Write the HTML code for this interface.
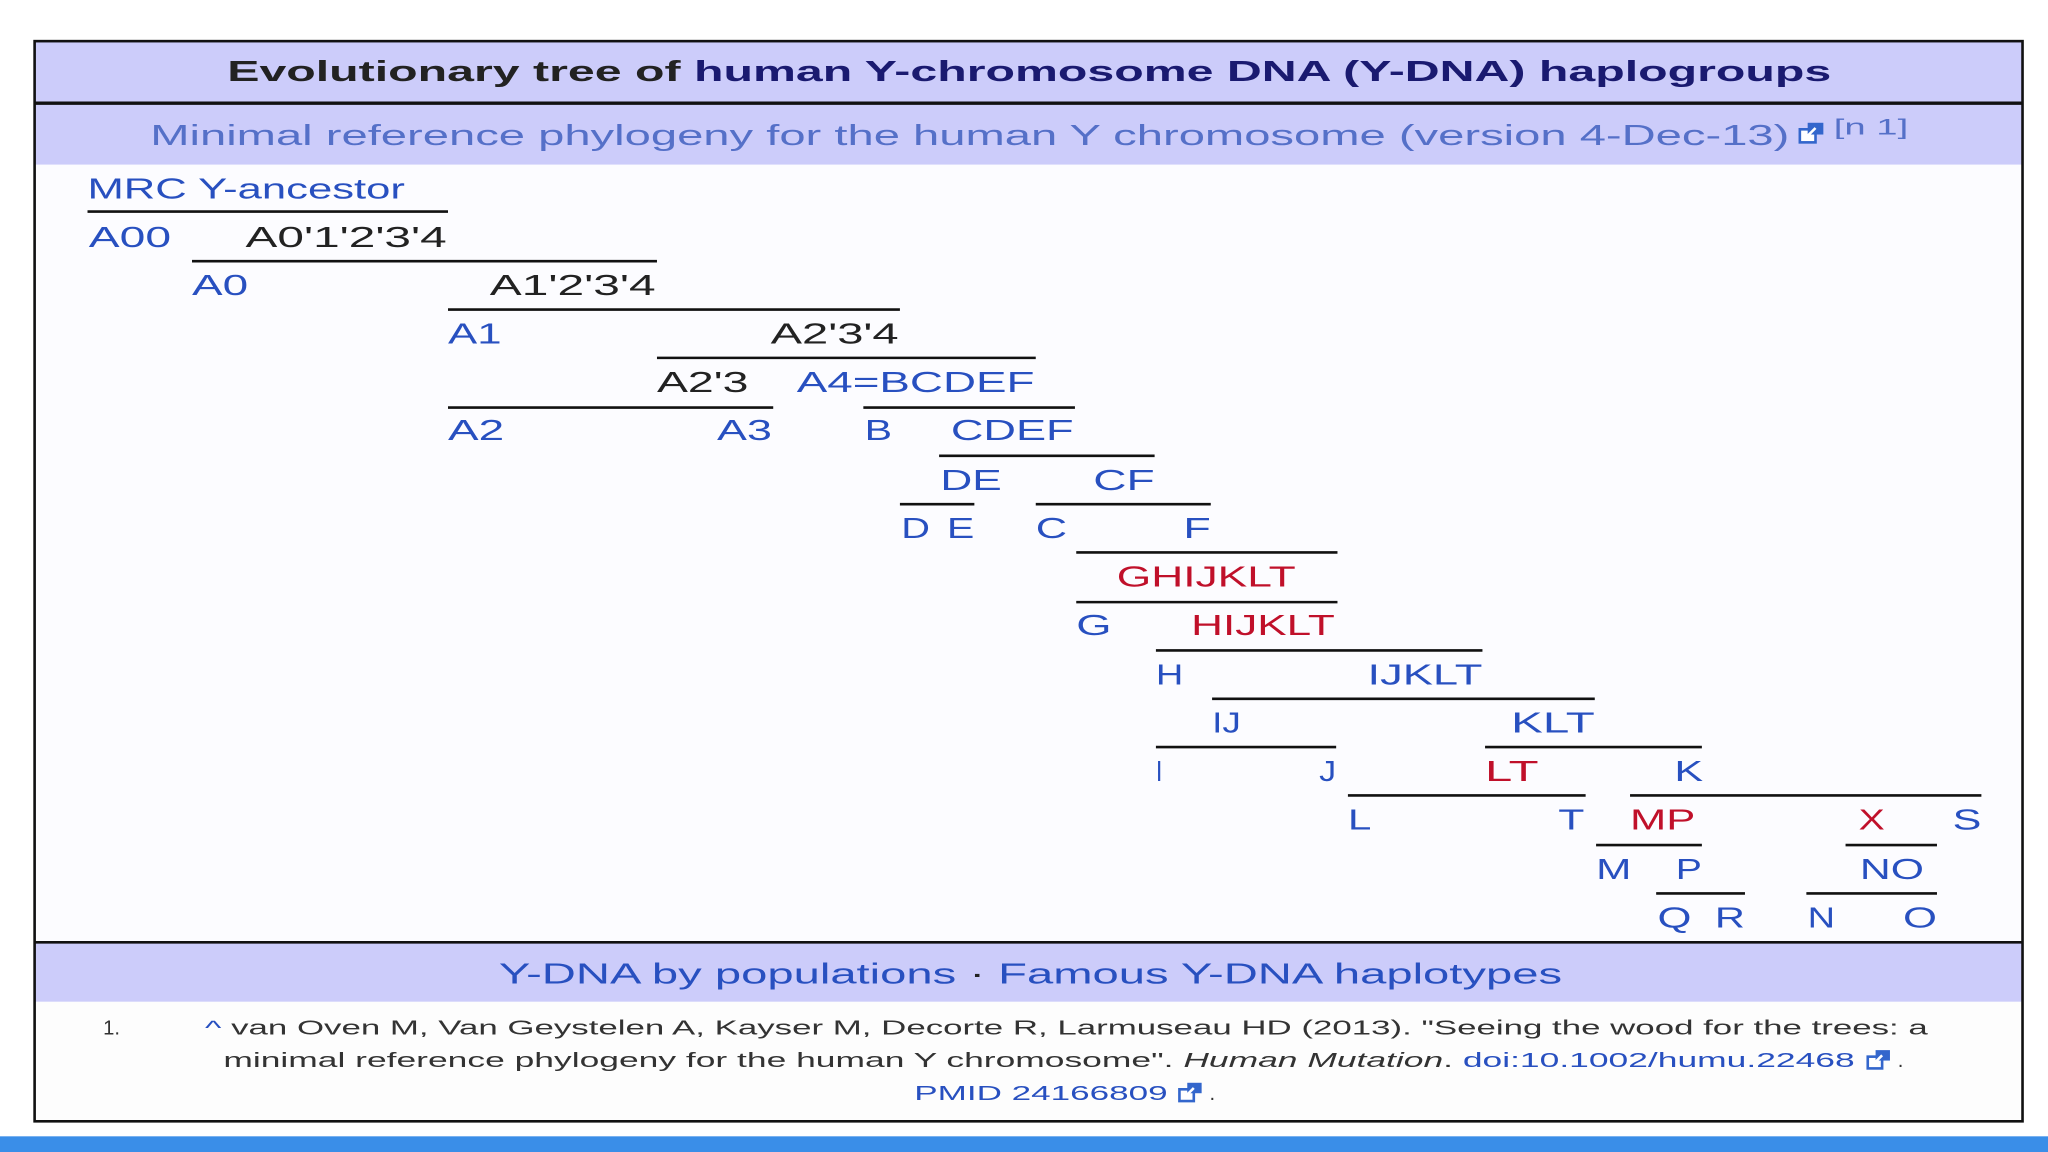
<!DOCTYPE html>
<html><head><meta charset="utf-8"><style>
html,body{margin:0;padding:0;background:#fff;width:2048px;height:1152px;overflow:hidden}
svg{display:block}
text{font-family:"Liberation Sans",sans-serif}
</style></head><body>
<svg width="2048" height="1152" viewBox="0 0 1568 882" xmlns="http://www.w3.org/2000/svg">
<rect x="0" y="0" width="1568" height="882" fill="#ffffff"/>
<rect x="27" y="126" width="1521" height="595" fill="#fcfcff"/>
<rect x="27" y="32" width="1521" height="46" fill="#ccccfa"/>
<rect x="27" y="80" width="1521" height="46" fill="#ccccfa"/>
<line x1="27" y1="79" x2="1548" y2="79" stroke="#111" stroke-width="2.5"/>
<rect x="27" y="722" width="1521" height="45" fill="#ccccfa"/>
<line x1="27" y1="721.5" x2="1548" y2="721.5" stroke="#111" stroke-width="2"/>
<rect x="27" y="767" width="1521" height="91" fill="#fdfdfd"/>
<rect x="26.5" y="31.5" width="1522" height="827" fill="none" stroke="#111" stroke-width="2"/>
<rect x="0" y="870" width="1568" height="12" fill="#3a8ee8"/>

<text x="174" y="62" font-size="22" font-weight="bold" textLength="1228" lengthAdjust="spacingAndGlyphs" fill="#222"><tspan>Evolutionary tree of </tspan><tspan fill="#1a1a70">human Y-chromosome DNA (Y-DNA) haplogroups</tspan></text>
<text x="115" y="111" font-size="22" textLength="1255" lengthAdjust="spacingAndGlyphs" fill="#5570c8">Minimal reference phylogeny for the human Y chromosome (version 4-Dec-13)</text>
<g transform="translate(1378,94)"><rect x="0" y="5" width="12" height="10" fill="#fff" stroke="#3366cc" stroke-width="2"/><rect x="6" y="0" width="12" height="9" fill="#3366cc"/><line x1="4" y1="12" x2="12" y2="4" stroke="#fff" stroke-width="2"/></g>
<text x="1404" y="103" font-size="17" textLength="57" lengthAdjust="spacingAndGlyphs" fill="#5570c8">[n 1]</text>

<g stroke="#111" stroke-width="2">
<line x1="67" y1="162" x2="343" y2="162"/>
<line x1="147" y1="200" x2="503" y2="200"/>
<line x1="343" y1="237" x2="689" y2="237"/>
<line x1="503" y1="274" x2="793" y2="274"/>
<line x1="343" y1="312" x2="592" y2="312"/>
<line x1="661" y1="312" x2="823" y2="312"/>
<line x1="719" y1="349" x2="884" y2="349"/>
<line x1="689" y1="386" x2="746" y2="386"/>
<line x1="793" y1="386" x2="927" y2="386"/>
<line x1="824" y1="423" x2="1024" y2="423"/>
<line x1="824" y1="461" x2="1024" y2="461"/>
<line x1="885" y1="498" x2="1135" y2="498"/>
<line x1="928" y1="535" x2="1221" y2="535"/>
<line x1="885" y1="572" x2="1023" y2="572"/>
<line x1="1137" y1="572" x2="1303" y2="572"/>
<line x1="1032" y1="609" x2="1214" y2="609"/>
<line x1="1248" y1="609" x2="1517" y2="609"/>
<line x1="1222" y1="647" x2="1303" y2="647"/>
<line x1="1413" y1="647" x2="1483" y2="647"/>
<line x1="1268" y1="684" x2="1336" y2="684"/>
<line x1="1383" y1="684" x2="1483" y2="684"/>
</g>

<g font-size="22" fill="#2850c0">
<text x="67" y="152" textLength="243" lengthAdjust="spacingAndGlyphs">MRC Y-ancestor</text>
<text x="68" y="189" textLength="63" lengthAdjust="spacingAndGlyphs">A00</text>
<text x="188" y="189" textLength="154" lengthAdjust="spacingAndGlyphs" fill="#222">A0'1'2'3'4</text>
<text x="147" y="226" textLength="43" lengthAdjust="spacingAndGlyphs">A0</text>
<text x="375" y="226" textLength="127" lengthAdjust="spacingAndGlyphs" fill="#222">A1'2'3'4</text>
<text x="343" y="263" textLength="41" lengthAdjust="spacingAndGlyphs">A1</text>
<text x="590" y="263" textLength="98" lengthAdjust="spacingAndGlyphs" fill="#222">A2'3'4</text>
<text x="503" y="300" textLength="70" lengthAdjust="spacingAndGlyphs" fill="#222">A2'3</text>
<text x="610" y="300" textLength="182" lengthAdjust="spacingAndGlyphs">A4=BCDEF</text>
<text x="343" y="337" textLength="43" lengthAdjust="spacingAndGlyphs">A2</text>
<text x="549" y="337" textLength="42" lengthAdjust="spacingAndGlyphs">A3</text>
<text x="662" y="337" textLength="21" lengthAdjust="spacingAndGlyphs">B</text>
<text x="728" y="337" textLength="94" lengthAdjust="spacingAndGlyphs">CDEF</text>
<text x="720" y="375" textLength="47" lengthAdjust="spacingAndGlyphs">DE</text>
<text x="837" y="375" textLength="47" lengthAdjust="spacingAndGlyphs">CF</text>
<text x="690" y="412" textLength="22" lengthAdjust="spacingAndGlyphs">D</text>
<text x="725" y="412" textLength="21" lengthAdjust="spacingAndGlyphs">E</text>
<text x="793" y="412" textLength="24" lengthAdjust="spacingAndGlyphs">C</text>
<text x="906" y="412" textLength="21" lengthAdjust="spacingAndGlyphs">F</text>
<text x="855" y="449" textLength="137" lengthAdjust="spacingAndGlyphs" fill="#c0102a">GHIJKLT</text>
<text x="824" y="486" textLength="27" lengthAdjust="spacingAndGlyphs">G</text>
<text x="912" y="486" textLength="110" lengthAdjust="spacingAndGlyphs" fill="#c0102a">HIJKLT</text>
<text x="885" y="524" textLength="21" lengthAdjust="spacingAndGlyphs">H</text>
<text x="1047" y="524" textLength="88" lengthAdjust="spacingAndGlyphs">IJKLT</text>
<text x="928" y="561" textLength="22" lengthAdjust="spacingAndGlyphs">IJ</text>
<text x="1157" y="561" textLength="64" lengthAdjust="spacingAndGlyphs">KLT</text>
<text x="885" y="598" textLength="5" lengthAdjust="spacingAndGlyphs">I</text>
<text x="1010" y="598" textLength="13" lengthAdjust="spacingAndGlyphs">J</text>
<text x="1137" y="598" textLength="41" lengthAdjust="spacingAndGlyphs" fill="#c0102a">LT</text>
<text x="1282" y="598" textLength="22" lengthAdjust="spacingAndGlyphs">K</text>
<text x="1032" y="635" textLength="18" lengthAdjust="spacingAndGlyphs">L</text>
<text x="1193" y="635" textLength="20" lengthAdjust="spacingAndGlyphs">T</text>
<text x="1248" y="635" textLength="50" lengthAdjust="spacingAndGlyphs" fill="#c0102a">MP</text>
<text x="1423" y="635" textLength="20" lengthAdjust="spacingAndGlyphs" fill="#c0102a">X</text>
<text x="1495" y="635" textLength="22" lengthAdjust="spacingAndGlyphs">S</text>
<text x="1222" y="673" textLength="27" lengthAdjust="spacingAndGlyphs">M</text>
<text x="1283" y="673" textLength="20" lengthAdjust="spacingAndGlyphs">P</text>
<text x="1424" y="673" textLength="49" lengthAdjust="spacingAndGlyphs">NO</text>
<text x="1269" y="710" textLength="26" lengthAdjust="spacingAndGlyphs">Q</text>
<text x="1313" y="710" textLength="23" lengthAdjust="spacingAndGlyphs">R</text>
<text x="1384" y="710" textLength="21" lengthAdjust="spacingAndGlyphs">N</text>
<text x="1457" y="710" textLength="26" lengthAdjust="spacingAndGlyphs">O</text>
</g>

<text x="382" y="753" font-size="22" textLength="814" lengthAdjust="spacingAndGlyphs" fill="#2850c0"><tspan>Y-DNA by populations</tspan><tspan fill="#222"> · </tspan><tspan>Famous Y-DNA haplotypes</tspan></text>

<g font-size="15.5" fill="#333">
<text x="79" y="792">1.</text>
<text x="157" y="792" textLength="1319" lengthAdjust="spacingAndGlyphs"><tspan fill="#2850c0">^</tspan> van Oven M, Van Geystelen A, Kayser M, Decorte R, Larmuseau HD (2013). "Seeing the wood for the trees: a</text>
<text x="171" y="817" textLength="1249" lengthAdjust="spacingAndGlyphs">minimal reference phylogeny for the human Y chromosome". <tspan font-style="italic">Human Mutation</tspan>. <tspan fill="#2850c0">doi:10.1002/humu.22468</tspan></text>
<g transform="translate(1430,804)"><rect x="0" y="5" width="11" height="9" fill="#fff" stroke="#3366cc" stroke-width="2"/><rect x="6" y="0" width="11" height="8" fill="#3366cc"/><line x1="4" y1="11" x2="11" y2="4" stroke="#fff" stroke-width="2"/></g>
<text x="1453" y="817">.</text>
<text x="700" y="842" textLength="194" lengthAdjust="spacingAndGlyphs" fill="#2850c0">PMID 24166809</text>
<g transform="translate(903,829)"><rect x="0" y="5" width="11" height="9" fill="#fff" stroke="#3366cc" stroke-width="2"/><rect x="6" y="0" width="11" height="8" fill="#3366cc"/><line x1="4" y1="11" x2="11" y2="4" stroke="#fff" stroke-width="2"/></g>
<text x="926" y="842">.</text>
</g>
</svg>
</body></html>
